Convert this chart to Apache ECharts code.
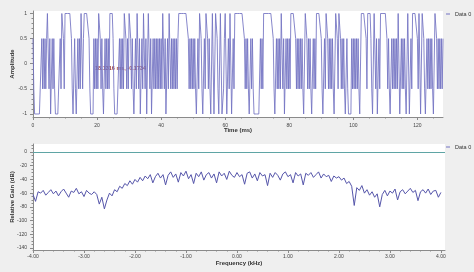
<!DOCTYPE html>
<html>
<head>
<meta charset="utf-8">
<script src="https://cdn.jsdelivr.net/npm/echarts@6/dist/echarts.min.js"></script>
<style>
html, body { margin: 0; padding: 0; background: #efefef; }
#chart { width: 474px; height: 272px; }
</style>
</head>
<body>
<div id="chart"></div>
<script>
// time sink: samples every 0.25 ms (one row = 8 ms)
var sampleStep = 0.25;
var ampValues = [
  0.5,-0.5,-1,-1,-1,-1,-1,-1,-1,-1,-1,0.5,-0.5,0.5,-0.5,0.5,-0.5,0.5,1,1,-0.5,0.5,-1,-1,0.5,-0.5,0.5,-0.5,-1,-1,-1,-1,
  -1,-1,0.5,-0.5,1,1,0.5,-0.5,1,1,1,1,1,1,1,1,0.5,-0.5,-1,-1,0.5,-0.5,-1,-1,0.5,-0.5,0.5,-0.5,1,1,-0.5,0.5,
  1,1,1,1,1,1,0.5,-0.5,-1,-1,-1,-1,0.5,-0.5,0.5,-0.5,0.5,-0.5,1,1,0.5,-0.5,0.5,-0.5,-1,-1,0.5,-0.5,0.5,-0.5,0.5,-0.5,
  1,1,1,1,0.5,-0.5,-1,-1,-1,-1,-1,-1,0.5,-0.5,0.5,-0.5,0.5,-0.5,1,1,0.5,-0.5,0.5,-0.5,1,1,0.5,-0.5,0.5,-0.5,-1,-1,
  0.5,-0.5,1,1,-0.5,0.5,-1,-1,0.5,-0.5,1,1,-0.5,0.5,-1,-1,1,1,-0.5,0.5,-1,-1,0.5,-0.5,0.5,-0.5,0.5,-0.5,0.5,-0.5,0.5,-0.5,
  0.5,-0.5,1,1,-0.5,0.5,-1,-1,0.5,-0.5,1,1,-0.5,0.5,-0.5,0.5,-0.5,0.5,-0.5,0.5,-0.5,0.5,1,1,1,1,1,1,1,1,1,1,
  1,1,0.5,-0.5,0.5,-0.5,0.5,-0.5,0.5,-0.5,0.5,-0.5,-1,-1,0.5,-0.5,1,1,0.5,-0.5,-1,-1,0.5,-0.5,1,1,0.5,-0.5,0.5,-0.5,-1,-1,
  1,1,-1,-1,1,1,0.5,-0.5,-1,-1,1,1,-1,-1,-0.5,0.5,1,1,-1,-1,0.5,-0.5,1,1,-1,-1,0.5,-0.5,1,1,1,1,
  1,1,1,1,1,1,1,1,0.5,-0.5,0.5,-0.5,0.5,-0.5,-1,-1,0.5,-0.5,0.5,-0.5,-1,-1,-1,-1,-1,-1,-1,-1,0.5,-0.5,0.5,-0.5,
  1,1,1,1,1,1,1,1,1,1,1,1,0.5,-0.5,-1,-1,0.5,-0.5,0.5,-0.5,0.5,-0.5,1,1,-0.5,0.5,-1,-1,0.5,-0.5,0.5,-0.5,
  0.5,-0.5,1,1,1,1,1,1,0.5,-0.5,0.5,-0.5,0.5,-0.5,0.5,-0.5,0.5,-0.5,-1,-1,1,1,0.5,-0.5,0.5,-0.5,0.5,-0.5,-1,-1,0.5,-0.5,
  0.5,-0.5,1,1,1,1,1,1,0.5,-0.5,-1,-1,0.5,-0.5,1,1,0.5,-0.5,0.5,-0.5,0.5,-0.5,0.5,-0.5,-1,-1,1,1,0.5,-0.5,1,1,
  0.5,-0.5,0.5,-0.5,0.5,-0.5,-1,-1,0.5,-0.5,-1,-1,-1,-1,0.5,-0.5,0.5,-0.5,0.5,-0.5,0.5,-0.5,0.5,-0.5,-1,-1,1,1,1,1,1,1,
  0.5,-0.5,1,1,1,1,0.5,-0.5,-1,-1,1,1,-0.5,0.5,-1,-1,0.5,-0.5,1,1,1,1,1,1,1,1,0.5,-0.5,0.5,-0.5,-1,-1,
  0.5,-0.5,0.5,-0.5,0.5,-0.5,0.5,-0.5,1,1,-1,-1,0.5,-0.5,0.5,-0.5,0.5,-0.5,-1,-1,1,1,-1,-1,0.5,-0.5,1,1,1,1,1,1,
  0.5,-0.5,1,1,-1,-1,1,1,0.5,-0.5,-1,-1,0.5,-0.5,0.5,-0.5,0.5,-0.5,0.5,-0.5,-1,-1,1,1,0.5,-0.5,0.5,-0.5,0.5,-0.5,0.5,-0.5,
  0.5
];

// freq sink: bins every 0.05 kHz from -4 kHz
var freqStart = -4;
var freqStep = 0.05;
var gainDb = [
  -62,-72,-58,-60,-56,-63,-59,-55,-61,-57,-64,-58,-54,-60,-66,-57,-59,-53,-61,-58,-65,-56,-60,-62,-58,
  -62,-76,-66,-83,-70,-60,-64,-55,-58,-50,
  -53,-46,-49,-42,-47,-40,-44,-37,-42,-35,-39,-33,-45,-36,-31,-38,
  -33,-48,-34,-29,-37,-32,-44,-30,-35,-28,-39,-33,-46,-31,-36,-29,-41,-33,-30,-38,
  -32,-45,-29,-35,-31,-40,-28,-34,-37,-30,-36,-33,-47,-31,-29,-38,-32,-42,-30,-35,
  -33,-49,-31,-37,-30,-34,-41,-32,-29,-36,-33,-45,-30,-35,-32,-48,-31,-34,-30,-37,
  -33,-29,-38,-32,-36,-34,-43,-35,-38,-36,
  -41,-38,-46,-43,-50,-78,-52,-56,-49,-60,-55,-63,-58,-66,-61,-80,-62,-56,-64,
  -57,-60,-54,-70,-58,-55,-61,-57,-53,-59,-56,-71,-58,-55,-60,-54,-62,-57,-56,-66,-59
];
var refLevel = 0;

var timeTicks = [0, 20, 40, 60, 80, 100, 120];
var ampTicks = [-1, -0.5, 0, 0.5, 1];
var freqTicks = [-4, -3, -2, -1, 0, 1, 2, 3, 4];
var gainTicks = [-140, -120, -100, -80, -60, -40, -20, 0];

var markerText = "18.1316 ms, -0.1734";
var seriesName = "Data 0";

var ampData = ampValues.map(function (v, i) { return [i * sampleStep, v]; });
var gainData = gainDb.map(function (v, i) { return [+(freqStart + i * freqStep).toFixed(2), v]; });

function steps(from, to, step) {
  var out = [];
  for (var v = from; v <= to + 1e-9; v += step) out.push(+v.toFixed(3));
  return out;
}

var font = "Liberation Sans";
var axisColor = "#8a8a8a";

function majorAxis(gridIndex, pos, min, max, ticks, fmt, name, nameGap, margin) {
  return {
    type: "value", gridIndex: gridIndex, position: pos, min: min, max: max,
    axisLine: { show: true, onZero: false, lineStyle: { color: axisColor, width: 1 } },
    axisTick: { show: true, customValues: ticks, length: 3, lineStyle: { color: axisColor } },
    axisLabel: {
      customValues: ticks, fontSize: 5, color: "#444", margin: margin, fontFamily: font,
      formatter: fmt
    },
    splitLine: { show: false },
    name: name, nameLocation: "middle", nameGap: nameGap, nameMoveOverlap: false,
    nameTextStyle: { fontSize: 6, fontWeight: "bold", color: "#333", fontFamily: font }
  };
}

function minorAxis(gridIndex, pos, min, max, ticks) {
  return {
    type: "value", gridIndex: gridIndex, position: pos, min: min, max: max,
    axisLine: { show: false, onZero: false },
    axisTick: { show: true, customValues: ticks, length: 1.5, lineStyle: { color: axisColor } },
    axisLabel: { show: false },
    splitLine: { show: false }
  };
}

var myChart = echarts.init(document.getElementById("chart"));
var option = {
  animation: false,
  backgroundColor: "#efefef",
  grid: [
    { left: 33, right: 31, top: 11, bottom: 155, show: true, backgroundColor: "#ffffff", borderWidth: 0,
      containLabel: false, outerBoundsMode: "none" },
    { left: 33, right: 29, top: 144, bottom: 22, show: true, backgroundColor: "#ffffff", borderWidth: 0,
      containLabel: false, outerBoundsMode: "none" }
  ],
  legend: [
    { data: [seriesName], left: 446, top: 11, icon: "rect", itemWidth: 4, itemHeight: 1, itemGap: 2, padding: 0,
      textStyle: { fontSize: 5.5, color: "#333", fontFamily: font } },
    { data: [seriesName], left: 446, top: 144, icon: "rect", itemWidth: 4, itemHeight: 1, itemGap: 2, padding: 0,
      textStyle: { fontSize: 5.5, color: "#333", fontFamily: font } }
  ],
  xAxis: [
    majorAxis(0, "bottom", 0, 128, timeTicks, null, "Time (ms)", 10, 6),
    minorAxis(0, "bottom", 0, 128, steps(0, 125, 5)),
    majorAxis(1, "bottom", -4, 4.08, freqTicks, function (v) { return v.toFixed(2); }, "Frequency (kHz)", 10, 4),
    minorAxis(1, "bottom", -4, 4.08, steps(-4, 4, 0.2))
  ],
  yAxis: [
    majorAxis(0, "left", -1.06, 1.05, ampTicks, null, "Amplitude", 18, 6),
    minorAxis(0, "left", -1.06, 1.05, steps(-1, 1, 0.1)),
    majorAxis(1, "left", -143, 11.7, gainTicks, null, "Relative Gain (dB)", 18, 6),
    minorAxis(1, "left", -143, 11.7, steps(-140, 10, 5))
  ],
  graphic: [
    { type: "text", left: 95, top: 65, silent: true,
      style: { text: markerText, fontSize: 5.5, fontWeight: "bold", fill: "#9e3f3f", fontFamily: font } }
  ],
  series: [
    {
      name: seriesName, type: "line", xAxisIndex: 0, yAxisIndex: 0,
      data: ampData, showSymbol: false, symbol: "none",
      lineStyle: { color: "#7272c2", width: 1, opacity: 0.85 },
      itemStyle: { color: "#7272c2" }
    },
    {
      name: seriesName, type: "line", xAxisIndex: 2, yAxisIndex: 2,
      data: gainData, showSymbol: false, symbol: "none",
      lineStyle: { color: "#5555aa", width: 1 },
      itemStyle: { color: "#5555aa" },
      markLine: {
        silent: true, symbol: "none", label: { show: false },
        lineStyle: { color: "#5fa5a5", width: 1, type: "solid" },
        data: [{ yAxis: refLevel }]
      }
    }
  ]
};
myChart.setOption(option);
window.addEventListener("resize", function () { myChart.resize(); });
</script>
</body>
</html>
